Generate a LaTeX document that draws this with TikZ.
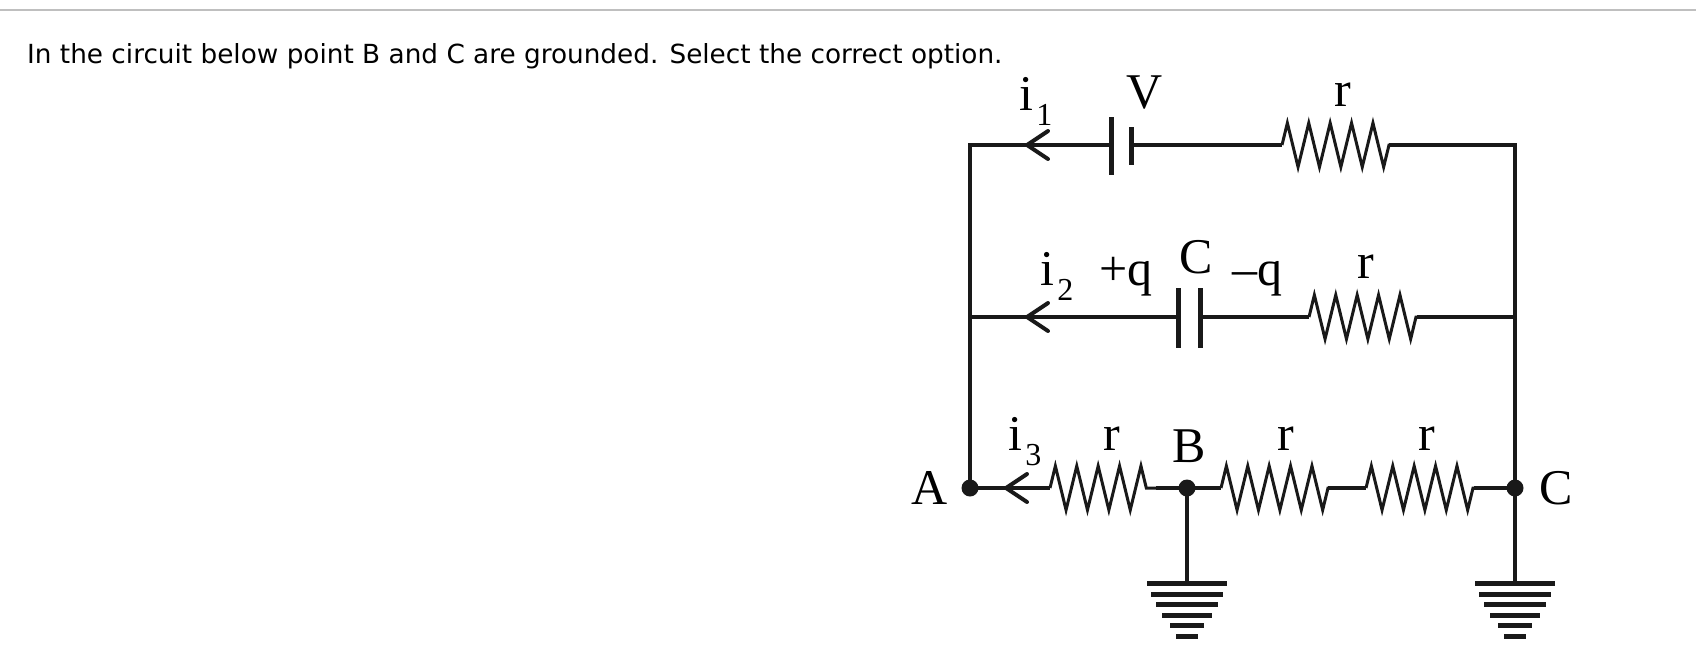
\documentclass[tikz,border=0pt]{standalone}
\usepackage{fontspec}
\setmainfont{Liberation Serif}
\newfontfamily\qsans{DejaVu Sans}
\usetikzlibrary{decorations.pathmorphing}
\newcommand\isub[1]{i\kern3pt\raisebox{-0.3em}{\fontsize{32}{32}\selectfont #1}}
\begin{document}
\begin{tikzpicture}[x=1pt,y=-1pt,
  wire/.style={line width=4.5pt,line cap=butt,line join=miter,black!90},
  res/.style={wire,line width=3pt,decorate,decoration={zigzag,segment length=21.4pt,amplitude=22pt}},
  plate/.style={line width=5pt,black!90},
  arr/.style={line width=4pt,black!90,line cap=round},
  dot/.style={circle,fill=black!90,inner sep=0pt,minimum size=17pt},
  lab/.style={font=\fontsize{50}{50}\selectfont,inner sep=0pt},
  bar/.style={line width=5pt,black!90}]
\useasboundingbox (0,0) rectangle (1696,670);
\draw[black!25,line width=1.5pt] (0,10) -- (1696,10);
\node[anchor=base west,inner sep=0pt,font=\qsans\fontsize{26.3}{28}\selectfont] (q) at (27,63) {In the circuit below point B and C are grounded. Select the correct option.};
% junctions
\coordinate (TL) at (970,145); \coordinate (TR) at (1515,145);
\coordinate (ML) at (970,317); \coordinate (MR) at (1515,317);
\node[dot] (A) at (970,488) {};
\node[dot] (B) at (1187,488) {};
\node[dot] (C) at (1515,488) {};
% top branch
\coordinate (bat1) at (1111,145); \coordinate (bat2) at (1131,145);
\coordinate (r1a) at (1282,145); \coordinate (r1b) at (1389,145);
\draw[wire] (A.center) -- (TL) -- (bat1);
\draw[wire] (bat2) -- (r1a);
\draw[res] (r1a) -- (r1b);
\draw[wire] (r1b) -- (TR) -- (C.center);
\draw[plate] (1111,117) -- (1111,175);
\draw[plate] (1131,127) -- (1131,165);
\draw[arr] (1048,131) -- (1027,145) -- (1048,159);
% middle branch
\coordinate (c1) at (1178,317); \coordinate (c2) at (1200,317);
\coordinate (r2a) at (1309,317); \coordinate (r2b) at (1417,317);
\draw[wire] (ML) -- (c1);
\draw[wire] (c2) -- (r2a);
\draw[res] (r2a) -- (r2b);
\draw[wire] (r2b) -- (MR);
\draw[plate] (1178,288) -- (1178,348);
\draw[plate] (1200,288) -- (1200,348);
\draw[arr] (1048,303) -- (1027,317) -- (1048,331);
% bottom branch
\coordinate (r3a) at (1050,488); \coordinate (r3b) at (1156,488);
\coordinate (r4a) at (1221,488); \coordinate (r4b) at (1328,488);
\coordinate (r5a) at (1366,488); \coordinate (r5b) at (1474,488);
\draw[wire] (A.center) -- (r3a); \draw[res] (r3a) -- (r3b);
\draw[wire] (r3b) -- (B.center) -- (r4a); \draw[res] (r4a) -- (r4b);
\draw[wire] (r4b) -- (r5a); \draw[res] (r5a) -- (r5b);
\draw[wire] (r5b) -- (C.center);
\draw[arr] (1027,474) -- (1006,488) -- (1027,502);
% grounds
\foreach \n/\gx in {gB/1187,gC/1515}{
  \coordinate (\n) at (\gx,583);
  \draw[wire] (\gx,488) -- (\n);
  \foreach \yy/\w in {583/40,594/36,604/31,615/25,625/17,636/11}
    \draw[bar] (\gx-\w,\yy) -- (\gx+\w,\yy);
}
% labels
\node[lab,anchor=base] (li1) at (1036,110) {\isub{1}};
\node[lab,anchor=base] (lV) at (1145,108) {V};
\node[lab,anchor=base] (lr1) at (1343,106) {r};
\node[lab,anchor=base] (li2) at (1057,285) {\isub{2}};
\node[lab,anchor=base] (lpq) at (1126,285) {+q};
\node[lab,anchor=base] (lC) at (1196,273) {C};
\node[lab,anchor=base] (lmq) at (1257,285) {\textendash q};
\node[lab,anchor=base] (lr2) at (1366,278) {r};
\node[lab,anchor=base] (li3) at (1025,450) {\isub{3}};
\node[lab,anchor=base] (lr3) at (1112,450) {r};
\node[lab,anchor=base] (lB) at (1189,462) {B};
\node[lab,anchor=base] (lr4) at (1286,450) {r};
\node[lab,anchor=base] (lr5) at (1427,450) {r};
\node[lab,anchor=base] (lA) at (930,504) {A};
\node[lab,anchor=base] (lCc) at (1556,504) {C};
\end{tikzpicture}
\end{document}
